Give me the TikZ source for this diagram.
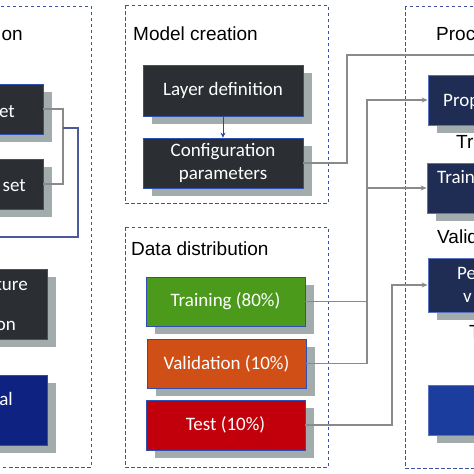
\documentclass[tikz,border=0pt]{standalone}
\usepackage{fontspec}
\setmainfont{Liberation Sans}
\newfontfamily\boxfont{Carlito}
\usetikzlibrary{arrows.meta,shadows}
\definecolor{charcoal}{HTML}{2B2F33}
\definecolor{navybox}{HTML}{1F2D54}
\definecolor{royal}{HTML}{1B3D9E}
\definecolor{deepnavy}{HTML}{0E2282}
\definecolor{edgeblue}{HTML}{2F4FB0}
\definecolor{shadowgray}{HTML}{A3ACAC}
\definecolor{dashblue}{HTML}{4050A0}
\definecolor{linegray}{HTML}{8A8A8A}
\definecolor{bracketblue}{HTML}{4A5A9A}
\definecolor{arrowblue}{HTML}{2A45B0}
\definecolor{trgreen}{HTML}{4C9A1C}
\definecolor{valorange}{HTML}{CF4F17}
\definecolor{testred}{HTML}{C2000B}
\tikzset{
  panel/.style={draw=dashblue, line width=1pt, dash pattern=on 3.5pt off 2.5pt},
  boxbase/.style={rectangle, draw=edgeblue, line width=0.8pt, text=white,
    font=\boxfont\fontsize{19}{23}\selectfont, align=center, inner sep=0pt,
    minimum width=160pt, minimum height=50pt,
    drop shadow={shadow xshift=9pt, shadow yshift=-8pt, fill=shadowgray, opacity=1}},
  darkbox/.style={boxbase, fill=charcoal},
  navyrbox/.style={boxbase, fill=navybox, draw=edgeblue!80!white},
  frag/.style={inner sep=0pt, text=white, font=\boxfont\fontsize{19}{23}\selectfont},
  titletext/.style={inner sep=0pt, text=black, font=\fontsize{19}{23}\selectfont},
  conn/.style={draw=linegray, line width=1.2pt},
  arr/.style={-{Stealth[length=6pt,width=5pt]}},
}
\begin{document}
\begin{tikzpicture}[x=1pt,y=-1pt]
\useasboundingbox (0,0) rectangle (474,474);
\clip (0,0) rectangle (474,474);
\fill[white] (0,0) rectangle (474,474);

% panels
\draw[panel] (-10,6) rectangle (91,467);
\draw[panel] (125,5) rectangle (328,203);
\draw[panel] (125,227) rectangle (328,467);
\draw[panel] (405,6) rectangle (490,468);

% titles
\node[titletext, anchor=base east] (lefttitle) at (23,40) {on};
\node[titletext, anchor=base west] (mctitle) at (133,40) {Model creation};
\node[titletext, anchor=base west] (ddtitle) at (131,255) {Data distribution};
\node[titletext, anchor=base west] (proctitle) at (436,40) {Proc};
\node[titletext, anchor=base west] (tratxt) at (456,148) {Tra};
\node[titletext, anchor=base west] (valtxt) at (437,243) {Valid};
\node[titletext, anchor=base west] (ttxt) at (469,338) {T};

% left boxes
\node[darkbox] (L1) at (-37,109) {};
\node[darkbox] (L2) at (-37,184) {};
\node[darkbox, minimum height=70pt] (L3) at (-33,304) {};
\node[boxbase, fill=deepnavy, minimum height=70pt] (L4) at (-33,410) {};
\node[frag, anchor=base east] (f1) at (15,117) {et};
\node[frag, anchor=base east] (f2) at (26,191) {set};
\node[frag, anchor=base east] (f3) at (28,290) {ture};
\node[frag, anchor=base east] (f4) at (16,330) {on};
\node[frag, anchor=base east] (f5) at (13,405) {al};

% model creation
\node[darkbox, minimum height=51pt] (layer) at (223,90.5) {Layer definition};
\node[darkbox] (config) at (223,163) {Configuration\\parameters};

% data distribution
\node[boxbase, fill=trgreen, minimum width=159pt, minimum height=49pt] (train) at (225.5,301.5) {Training (80\%)};
\node[boxbase, fill=valorange, minimum width=159pt, minimum height=49pt] (val) at (226.5,363.5) {Validation (10\%)};
\node[boxbase, fill=testred, minimum width=159pt, minimum height=50pt] (test) at (225.5,425) {Test (10\%)};

% right boxes
\node[navyrbox] (prop) at (508,100) {};
\node[navyrbox] (trainbox) at (507,188) {};
\node[navyrbox, minimum height=54pt] (perf) at (508,285) {};
\node[boxbase, fill=royal, draw=edgeblue!80!white] (bluebox) at (508,410) {};
\node[frag, anchor=base west] (g1) at (443,106) {Prop};
\node[frag, anchor=base west] (g2) at (437,183) {Train};
\node[frag, anchor=base west] (g3) at (457,279) {Pe};
\node[frag, anchor=base west] (g4) at (463,302) {v};

% connectors left
\coordinate (lj) at (63,128);
\coordinate (lend) at (-5,237);
\draw[conn] (L1.east) -- (63,109) |- (L2.east);
\draw[draw=bracketblue, line width=1.2pt] (lj) -- (78,128) |- (lend);

% model creation connectors
\draw[draw=arrowblue, line width=1pt, -{Stealth[length=5pt,width=5pt]}] (layer.south) -- (config.north);
\coordinate (topend) at (480,55);
\draw[conn] (config.east) -- (347,163) -- (347,55) -- (topend);

% data connectors
\coordinate (bus) at (367,363.5);
\draw[conn] (val.east) -- (bus);
\draw[conn, arr] (bus) |- (prop.west);
\draw[conn] (train.east) -- (train.east -| bus);
\draw[conn, arr] (bus |- trainbox.west) -- (trainbox.west);
\draw[conn, arr] (test.east) -- (392,425) |- (perf.west);
\end{tikzpicture}
\end{document}
